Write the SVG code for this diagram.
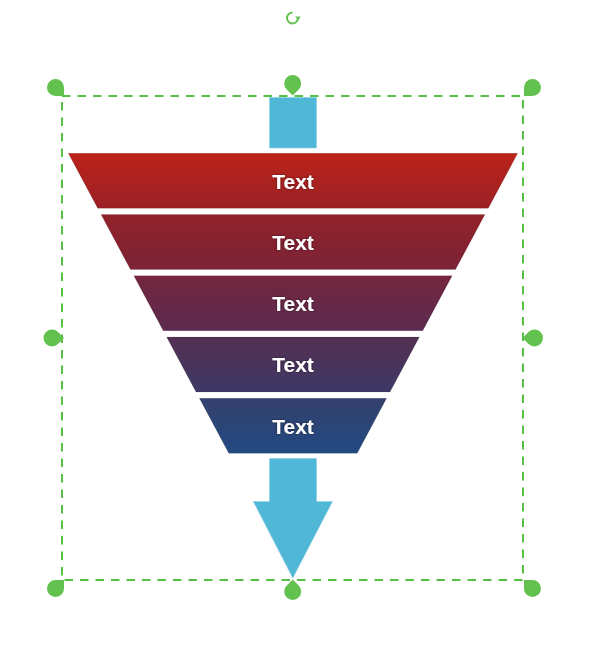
<svg xmlns="http://www.w3.org/2000/svg" width="600" height="653" viewBox="0 0 600 653">
  <defs>
    <linearGradient id="funnelGrad" gradientUnits="userSpaceOnUse" x1="0" y1="153" x2="0" y2="453">
      <stop offset="0" stop-color="#bc2319"/>
      <stop offset="0.18" stop-color="#9b2125"/>
      <stop offset="0.2" stop-color="#932229"/>
      <stop offset="0.38" stop-color="#7c2336"/>
      <stop offset="0.41" stop-color="#74263f"/>
      <stop offset="0.59" stop-color="#5c2b4f"/>
      <stop offset="0.61" stop-color="#553052"/>
      <stop offset="0.79" stop-color="#3f3866"/>
      <stop offset="0.815" stop-color="#35406c"/>
      <stop offset="1" stop-color="#224a82"/>
    </linearGradient>
    <filter id="txtShadow" x="-20%" y="-30%" width="140%" height="160%">
      <feDropShadow dx="0" dy="0" stdDeviation="0.8" flood-color="#000" flood-opacity="0.6"/>
    </filter>
    <path id="handle" d="M8.5 0 A8.5 8.5 0 1 0 0 8.5 L8.5 8.5 Z"/>
  </defs>
  <style>
    .layer { fill: url(#funnelGrad); stroke: #000; stroke-opacity: 0.12; stroke-width: 0.8; }
    .label { font-family: "Liberation Sans", Arial, sans-serif; font-weight: bold; font-size: 21px; fill: #ffffff; text-anchor: middle; filter: url(#txtShadow); }
    .flow { fill: #51b7d7; stroke: #8fd0e6; stroke-width: 0.6; }
    .sel { fill: none; stroke: #55c043; stroke-width: 2; stroke-dasharray: 8.5 7; }
    .hdl { fill: #63c24f; }
  </style>

  <g id="connectors">
    <rect id="flow-in" class="flow" x="269.5" y="97.5" width="47" height="50.5"/>
    <polygon id="flow-out" class="flow" points="269.5,458.5 316.5,458.5 316.5,501.5 332.5,501.5 292.8,578 253.3,501.5 269.5,501.5"/>
  </g>

  <g id="layer1">
    <polygon class="layer" points="68.3,153.3 517.7,153.3 488.3,208.3 97.7,208.3"/>
    <text class="label" x="293" y="189">Text</text>
  </g>
  <g id="layer2">
    <polygon class="layer" points="101.07,214.55 484.93,214.55 455.51,269.55 130.49,269.55"/>
    <text class="label" x="293" y="250">Text</text>
  </g>
  <g id="layer3">
    <polygon class="layer" points="133.84,275.8 452.16,275.8 422.74,330.8 163.26,330.8"/>
    <text class="label" x="293" y="311">Text</text>
  </g>
  <g id="layer4">
    <polygon class="layer" points="166.61,337.05 419.39,337.05 389.97,392.05 196.03,392.05"/>
    <text class="label" x="293" y="372">Text</text>
  </g>
  <g id="layer5">
    <polygon class="layer" points="199.38,398.3 386.62,398.3 357.2,453.3 228.8,453.3"/>
    <text class="label" x="293" y="433.5">Text</text>
  </g>

  <g id="selection">
    <rect class="sel" x="62" y="96" width="461" height="484"/>
    <use href="#handle" class="hdl" transform="translate(55.5,87.5)"/>
    <use href="#handle" class="hdl" transform="translate(532.5,87.5) rotate(90)"/>
    <use href="#handle" class="hdl" transform="translate(532.5,588.5) rotate(180)"/>
    <use href="#handle" class="hdl" transform="translate(55.5,588.5) rotate(270)"/>
    <use href="#handle" class="hdl" transform="translate(292.7,83.5) rotate(45)"/>
    <use href="#handle" class="hdl" transform="translate(292.7,591.5) rotate(225)"/>
    <use href="#handle" class="hdl" transform="translate(52,338) rotate(-45)"/>
    <use href="#handle" class="hdl" transform="translate(534.5,338) rotate(135)"/>
    <g id="rotate">
      <path d="M292.5 12.5 A5.5 5.5 0 1 0 298 18" fill="none" stroke="#63c24f" stroke-width="2"/>
      <polygon points="295.3,16.5 300.7,16.5 298,20.8" fill="#63c24f"/>
    </g>
  </g>
</svg>
